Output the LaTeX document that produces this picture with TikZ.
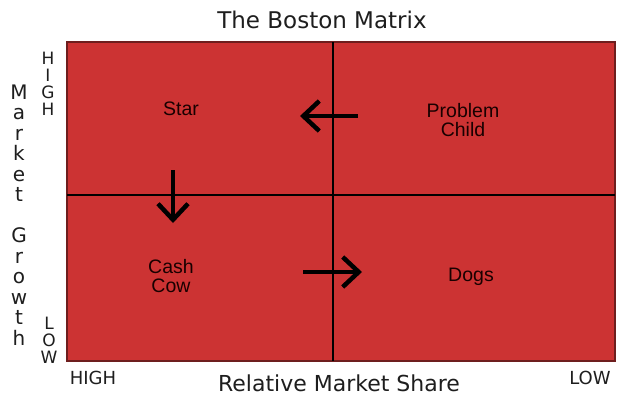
\documentclass[tikz,border=0pt]{standalone}
\usepackage{fontspec}
\setmainfont{DejaVu Sans}
\newfontfamily\arialf{Liberation Sans}
\usetikzlibrary{arrows.meta}
\definecolor{boxred}{RGB}{204,51,51}
\definecolor{boxedge}{RGB}{110,30,30}
\definecolor{ink}{RGB}{30,30,30}
\begin{document}
\begin{tikzpicture}[x=1pt,y=-1pt,
  titletxt/.style={font=\fontsize{23}{23}\selectfont, text=ink, inner sep=0pt},
  axistxt/.style={font=\fontsize{22}{22}\selectfont, text=ink, inner sep=0pt},
  vertlbl/.style={font=\fontsize{20}{20.5}\selectfont, text=ink, inner sep=0pt, align=center},
  vertsmall/.style={font=\fontsize{17}{17}\selectfont, text=ink, inner sep=0pt, align=center},
  smalltxt/.style={font=\fontsize{18}{18}\selectfont, text=ink, inner sep=0pt},
  quadtxt/.style={font=\arialf\fontsize{19.5}{19}\selectfont, text=black!90!red, align=center, inner sep=0pt},
  gridline/.style={line width=1.6pt, black},
  flowarrow/.style={line width=4.5pt, black, -{Straight Barb[length=16pt, width=30pt]}}
]
\useasboundingbox (0,0) rectangle (640,400);
\fill[white] (0,0) rectangle (640,400);
% matrix
\draw[fill=boxred, draw=boxedge, line width=1.2pt] (67,42) rectangle (615,361);
\coordinate (vtop) at (333,42);
\coordinate (vbot) at (333,361);
\coordinate (hleft) at (67,195);
\coordinate (hright) at (615,195);
\draw[gridline] (vtop) -- (vbot);
\draw[gridline] (hleft) -- (hright);
% title and axes
\node[titletxt] (title) at (322,20) {The Boston Matrix};
\node[axistxt] (xlabel) at (339,383) {Relative Market Share};
\node[smalltxt] (xhigh) at (93,378) {HIGH};
\node[smalltxt] (xlow) at (590,378) {LOW};
\node[vertlbl] (ylabel) at (19,215) {M\\a\\r\\k\\e\\t\\[20.5pt]G\\r\\o\\w\\t\\h};
\node[vertsmall] (yhigh) at (48,84) {H\\I\\G\\H};
\node[vertsmall] (ylow) at (49,340) {L\\O\\W};
% quadrants
\node[quadtxt] (star) at (181,109) {Star};
\node[quadtxt] (problem) at (463,120) {Problem\\Child};
\node[quadtxt] (cash) at (171,276) {Cash\\Cow};
\node[quadtxt] (dogs) at (471,277) {Dogs};
% arrows
\coordinate (a1s) at (358,116);
\coordinate (a1e) at (300,116);
\coordinate (a2s) at (173,170);
\coordinate (a2e) at (173,223);
\coordinate (a3s) at (303,272);
\coordinate (a3e) at (362,272);
\draw[flowarrow] (a1s) -- (a1e);
\draw[flowarrow] (a2s) -- (a2e);
\draw[flowarrow] (a3s) -- (a3e);
\end{tikzpicture}
\end{document}
